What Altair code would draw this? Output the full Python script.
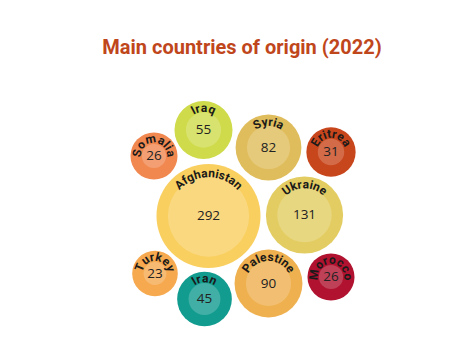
import math
import altair as alt
import pandas as pd

# ---- data ----
countries = ["Afghanistan", "Ukraine", "Palestine", "Syria", "Iraq",
             "Iran", "Eritrea", "Somalia", "Morocco", "Turkey"]
values = [292, 131, 90, 82, 55, 45, 31, 26, 26, 23]
colors = ["#f9cf60", "#e3cd62", "#efb04f", "#e0bd5c", "#cfdb4a",
          "#129c8f", "#c8461c", "#f08850", "#b0122f", "#f6a94f"]
title_text = "Main countries of origin (2022)"

# ---- layout (bubble centres in chart pixel units) ----
cx = [208.5, 304.5, 268.5, 268.5, 203.5, 204.5, 331, 154, 331, 155]
cy = [216, 215, 283.5, 147.5, 130, 299, 152, 156, 277, 273.5]

W, H = 474, 355
RING = 11.4     # constant ring width (label band)
K = 2.377       # inner radius per sqrt(value)
FS = 12         # label font size
SPACING = 0.1

# approximate bold glyph advance widths (em, Roboto Bold)
glyph_w = {"A": 0.67, "f": 0.35, "g": 0.56, "h": 0.55, "a": 0.54, "n": 0.55,
           "i": 0.25, "s": 0.52, "t": 0.33, "U": 0.65, "k": 0.52, "r": 0.35,
           "e": 0.53, "P": 0.63, "l": 0.25, "S": 0.60, "y": 0.49, "I": 0.29,
           "q": 0.56, "E": 0.57, "o": 0.57, "m": 0.87, "M": 0.87, "c": 0.52,
           "T": 0.61}

df = pd.DataFrame({"country": countries, "value": values, "cx": cx, "cy": cy})

# curved labels: one row per character along an arc inside the ring
rows = []
for name, v, x0, y0 in zip(countries, values, cx, cy):
    r = RING + K * math.sqrt(v)
    rb = 0.9 * r - 8.0
    ws = [glyph_w.get(c, 0.55) * FS for c in name]
    total = sum(ws) + SPACING * (len(ws) - 1)
    s = -total / 2
    for c, w in zip(name, ws):
        mid = s + w / 2
        th = mid / rb
        rows.append({"ch": c,
                     "x": x0 + rb * math.sin(th),
                     "y": y0 - rb * math.cos(th),
                     "angle": math.degrees(th) % 360})
        s += w + SPACING
chars = pd.DataFrame(rows)

xs = alt.Scale(domain=[0, W], nice=False, zero=False)
ys = alt.Scale(domain=[0, H], nice=False, zero=False, reverse=True)

base = alt.Chart(df).encode(
    x=alt.X("cx:Q", scale=xs, axis=None),
    y=alt.Y("cy:Q", scale=ys, axis=None),
).transform_calculate(
    outer=f"pow(2*({RING}+{K}*sqrt(datum.value)),2)",
    inner=f"pow(2*({K}*sqrt(datum.value)),2)",
)

outer = base.mark_circle(opacity=1).encode(
    color=alt.Color("country:N", scale=alt.Scale(domain=countries, range=colors), legend=None),
    size=alt.Size("outer:Q", scale=None),
)
inner = base.mark_circle(opacity=0.2, color="white").encode(
    size=alt.Size("inner:Q", scale=None),
)
nums = base.mark_text(font="Open Sans", fontSize=13.5, color="#222222",
                      baseline="middle", align="center").encode(text="value:Q")

letters = alt.Chart(chars).mark_text(
    font="Roboto", fontWeight="bold", fontSize=FS, color="#1a1a1a",
    align="center", baseline="alphabetic"
).encode(
    x=alt.X("x:Q", scale=xs, axis=None),
    y=alt.Y("y:Q", scale=ys, axis=None),
    angle=alt.Angle("angle:Q", scale=None),
    text="ch:N",
)

title = alt.Chart(pd.DataFrame({"t": [title_text]})).mark_text(
    font="Roboto", fontWeight="bold", fontSize=20,
    color="#c0461b", align="center", baseline="alphabetic"
).encode(x=alt.value(242), y=alt.value(54), text="t:N")

chart = alt.layer(outer, inner, nums, letters, title).properties(
    width=W, height=H, padding=0,
    autosize=alt.AutoSizeParams(type="none"),
).configure_view(stroke=None)

chart.save("out.html", embed_options={"renderer": "svg", "actions": False})
